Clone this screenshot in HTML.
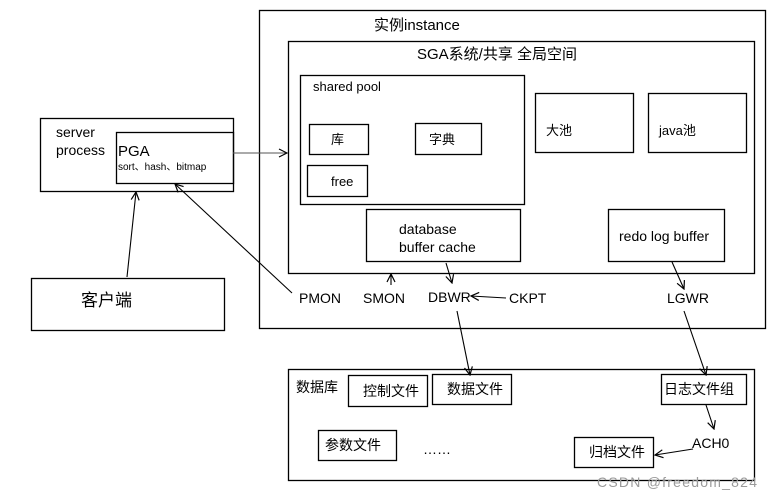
<!DOCTYPE html>
<html><head><meta charset="utf-8"><style>
html,body{margin:0;padding:0;background:#fff;}
svg{display:block;}
text{font-family:"Liberation Sans","Noto Sans CJK SC",sans-serif;fill:#000;}
</style></head><body>
<svg width="774" height="499" viewBox="0 0 774 499" xmlns="http://www.w3.org/2000/svg">
<defs>
<marker id="a" markerWidth="10" markerHeight="10" refX="9" refY="5" orient="auto" markerUnits="userSpaceOnUse">
<path d="M1,1 L9,5 L1,9" fill="none" stroke="#000" stroke-width="1.2"/>
</marker>
</defs>
<g fill="none" stroke="#000" stroke-width="1.3">
<rect x="259.5" y="10.5" width="506" height="318"/>
<rect x="288.5" y="41.5" width="466" height="232"/>
<rect x="300.5" y="75.5" width="224" height="129"/>
<rect x="309.5" y="124.5" width="59" height="30"/>
<rect x="415.5" y="123.5" width="66" height="31"/>
<rect x="307.5" y="165.5" width="60" height="31"/>
<rect x="535.5" y="93.5" width="98" height="59"/>
<rect x="648.5" y="93.5" width="98" height="59"/>
<rect x="366.5" y="209.5" width="154" height="52"/>
<rect x="608.5" y="209.5" width="116" height="52"/>
<rect x="40.5" y="118.5" width="193" height="73"/>
<rect x="116.5" y="132.5" width="117" height="51"/>
<rect x="31.5" y="278.5" width="193" height="52"/>
<rect x="288.5" y="369.5" width="466" height="111"/>
<rect x="348.5" y="375.5" width="79" height="31"/>
<rect x="432.5" y="374.5" width="79" height="30"/>
<rect x="661.5" y="374.5" width="85" height="30"/>
<rect x="318.5" y="430.5" width="78" height="30"/>
<rect x="574.5" y="437.5" width="79" height="30"/>
</g>
<g stroke="#000" stroke-width="1.1" fill="none" marker-end="url(#a)">
<line x1="233" y1="153" x2="287" y2="153" stroke="#555"/>
<line x1="127" y1="277" x2="136" y2="192"/>
<line x1="292" y1="293" x2="175" y2="184"/>
<line x1="391" y1="285" x2="391" y2="274"/>
<line x1="446" y1="263" x2="452" y2="283"/>
<line x1="506" y1="298" x2="471" y2="296"/>
<line x1="457" y1="311" x2="470" y2="375"/>
<line x1="672" y1="262" x2="684" y2="289"/>
<line x1="684" y1="311" x2="706" y2="375"/>
<line x1="706" y1="405" x2="714" y2="429"/>
<line x1="693" y1="449" x2="655" y2="455"/>
</g>
<text x="374" y="30" font-size="15">实例instance</text>
<text x="417" y="59" font-size="15">SGA系统/共享 全局空间</text>
<text x="313" y="91" font-size="13">shared pool</text>
<text x="331" y="144" font-size="13">库</text>
<text x="429" y="144" font-size="13">字典</text>
<text x="331" y="186" font-size="13">free</text>
<text x="546" y="135" font-size="13">大池</text>
<text x="659" y="135" font-size="13">java池</text>
<text x="399" y="234" font-size="14">database</text>
<text x="399" y="252" font-size="14">buffer cache</text>
<text x="619" y="241" font-size="14">redo log buffer</text>
<text x="56" y="137" font-size="14">server</text>
<text x="56" y="155" font-size="14">process</text>
<text x="118" y="156" font-size="15">PGA</text>
<text x="118" y="170" font-size="10">sort、hash、bitmap</text>
<text x="81" y="306" font-size="17">客户端</text>
<text x="299" y="303" font-size="14">PMON</text>
<text x="363" y="303" font-size="14">SMON</text>
<text x="428" y="302" font-size="14">DBWR</text>
<text x="509" y="303" font-size="14">CKPT</text>
<text x="667" y="303" font-size="14">LGWR</text>
<text x="296" y="392" font-size="14">数据库</text>
<text x="363" y="396" font-size="14">控制文件</text>
<text x="447" y="394" font-size="14">数据文件</text>
<text x="664" y="394" font-size="14">日志文件组</text>
<text x="325" y="450" font-size="14">参数文件</text>
<text x="423" y="454" font-size="14">……</text>
<text x="589" y="457" font-size="14">归档文件</text>
<text x="692" y="448" font-size="14">ACH0</text>
<text x="597" y="487" font-size="14" style="fill:#9a9a9a" textLength="160">CSDN @freedom_824</text>
</svg>
</body></html>
